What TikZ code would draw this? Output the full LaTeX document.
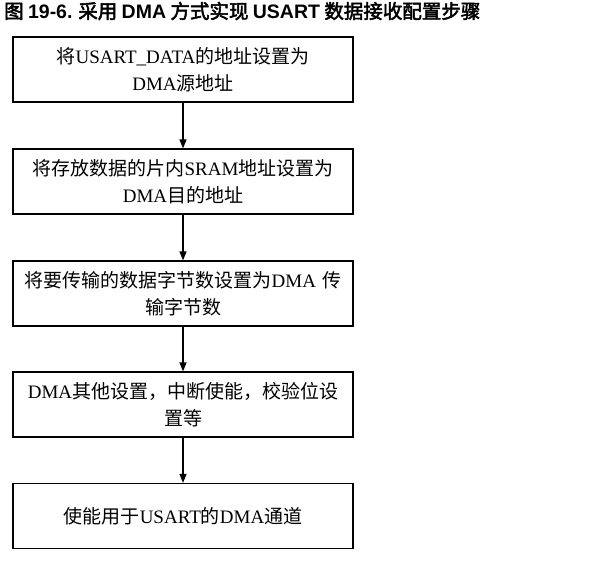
\documentclass[tikz,border=0pt]{standalone}
\usepackage{fontspec}
\setmainfont{Liberation Serif}
\newfontfamily\cjk{Noto Sans CJK SC}
\newfontfamily\cjkb[FakeBold=2.5]{Noto Sans CJK SC}
\newfontfamily\lsans{Liberation Sans}
\newcommand\C[1]{{\cjk #1}}
\usetikzlibrary{arrows.meta}
\begin{document}
\begin{tikzpicture}[x=1pt,y=-1pt,
  stepbox/.style={draw,line width=1.2pt,minimum width=340pt,minimum height=65pt,text width=330pt,align=center,font=\fontsize{19}{27}\selectfont,inner sep=0pt},
  conn/.style={line width=1.2pt,-{Triangle[length=9pt,width=7pt]}}]
\useasboundingbox (0,0) rectangle (600,562);
\node[anchor=west,font=\fontsize{19.5}{20}\selectfont,inner sep=0pt] (t) at (4,11) {\cjkb 图 \textbf{\lsans 19-6.} 采用 \textbf{\lsans DMA} 方式实现 \textbf{\lsans USART} 数据接收配置步骤};
\node[stepbox] (a) at (183,69.5) {\C{将}USART\_DATA\C{的地址设置为}\\DMA\C{源地址}};
\node[stepbox] (b) at (183,181.5) {\C{将存放数据的片内}SRAM\C{地址设置为}\\DMA\C{目的地址}};
\node[stepbox] (c) at (183,293.5) {\C{将要传输的数据字节数设置为}DMA \C{传}\\\C{输字节数}};
\node[stepbox] (d) at (183,404.5) {DMA\C{其他设置，中断使能，校验位设}\\\C{置等}};
\node[stepbox] (e) at (183,516) {\C{使能用于}USART\C{的}DMA\C{通道}};
\draw[conn] (a) -- (b);
\draw[conn] (b) -- (c);
\draw[conn] (c) -- (d);
\draw[conn] (d) -- (e);
\end{tikzpicture}
\end{document}
